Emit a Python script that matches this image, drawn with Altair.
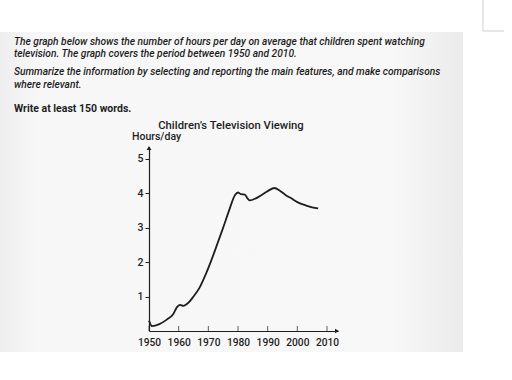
import altair as alt
import pandas as pd

# ---- data ----
years = [1950, 1951, 1953.5, 1956, 1958, 1959.5, 1960.5, 1961.5, 1963, 1965, 1967,
         1969, 1971, 1973, 1975, 1977, 1979, 1980, 1981, 1982.3, 1983.2, 1984, 1986,
         1988, 1990, 1992.3, 1994, 1996, 1998, 2000, 2003, 2005, 2007]
hours = [0.3, 0.14, 0.2, 0.33, 0.47, 0.7, 0.76, 0.73, 0.8, 1.0, 1.25,
         1.62, 2.05, 2.52, 3.0, 3.5, 3.95, 4.02, 3.97, 3.96, 3.85, 3.79, 3.85,
         3.95, 4.06, 4.15, 4.08, 3.95, 3.85, 3.74, 3.64, 3.59, 3.56]
x_ticks = [1950, 1960, 1970, 1980, 1990, 2000, 2010]
y_ticks = [1, 2, 3, 4, 5]
title_text = "Children\u2019s Television Viewing"
y_title = "Hours/day"
prompt_italic = [
    "The graph below shows the number of hours per day on average that children spent watching",
    "television. The graph covers the period between 1950 and 2010.",
    "Summarize the information by selecting and reporting the main features, and make comparisons",
    "where relevant.",
]
prompt_bold = "Write at least 150 words."

FONT = "Roboto"
INK = "#1e1e1e"

df = pd.DataFrame({"year": years, "hours": hours})
tick_df = pd.DataFrame({"year": x_ticks})

W, H = 189, 184
xscale = alt.Scale(domain=[1950, 2013.7], nice=False, zero=False)
yscale = alt.Scale(domain=[0, 5.34], nice=False)
xaxis = alt.Axis(values=x_ticks, format="d", title=None, tickSize=0,
                 labelPadding=6, labelFontSize=10.2, labelFont=FONT,
                 labelFontWeight=500, labelColor=INK, domainColor=INK,
                 domainWidth=1.2, grid=False, labelFlush=False,
                 labelOverlap=False, labelBound=False, zindex=2)

one = alt.Data(values=[{}])

# scanned page background
bg = alt.Chart(one).mark_rect(
    fill=alt.LinearGradient(
        gradient="linear", x1=0, x2=1, y1=0, y2=0,
        stops=[alt.GradientStop(color="#eeeeee", offset=0),
               alt.GradientStop(color="#f7f7f7", offset=0.08),
               alt.GradientStop(color="#f8f8f8", offset=0.85),
               alt.GradientStop(color="#ebebeb", offset=1)])
).encode(x=alt.value(-149), x2=alt.value(314), y=alt.value(-115), y2=alt.value(205))

corner_v = alt.Chart(one).mark_rule(color="#cfcfcf", strokeWidth=1).encode(
    x=alt.value(334), y=alt.value(-147), y2=alt.value(-116))
corner_h = alt.Chart(one).mark_rule(color="#cfcfcf", strokeWidth=1).encode(
    x=alt.value(334), x2=alt.value(355), y=alt.value(-116))

texts = []
for i, (line, yy) in enumerate(zip(prompt_italic, [-105, -93, -75, -62])):
    texts.append(alt.Chart(one).mark_text(
        align="left", baseline="middle", font=FONT, fontSize=10.2,
        fontStyle="italic", fontWeight=500, color=INK).encode(
        x=alt.value(-135), y=alt.value(yy), text=alt.value(line)))
texts.append(alt.Chart(one).mark_text(
    align="left", baseline="middle", font=FONT, fontSize=10.5,
    fontWeight="bold", color=INK).encode(
    x=alt.value(-135), y=alt.value(-38), text=alt.value(prompt_bold)))
texts.append(alt.Chart(one).mark_text(
    align="center", baseline="middle", font=FONT, fontSize=11.3,
    fontWeight=500, color=INK).encode(x=alt.value(82), y=alt.value(-21),
                                      text=alt.value(title_text)))
texts.append(alt.Chart(one).mark_text(
    align="left", baseline="middle", font=FONT, fontSize=10.5,
    fontWeight=500, color=INK).encode(x=alt.value(-17), y=alt.value(-10),
                                      text=alt.value(y_title)))

line = alt.Chart(df).mark_line(color=INK, strokeWidth=1.8, interpolate="monotone").encode(
    x=alt.X("year:Q", scale=xscale, axis=xaxis),
    y=alt.Y("hours:Q", scale=yscale,
            axis=alt.Axis(values=y_ticks, title=None, tickSize=4, labelPadding=2,
                          labelFontSize=10.5, labelFont=FONT, labelFontWeight=500,
                          labelColor=INK, domainColor=INK, domainWidth=1.2,
                          tickColor=INK, grid=False, labelOverlap=False, zindex=2)),
)

xticks = alt.Chart(tick_df).mark_tick(color=INK, thickness=1, size=5).encode(
    x=alt.X("year:Q", scale=xscale, axis=xaxis), y=alt.value(H - 2.5))

arrows = [
    alt.Chart(one).mark_point(shape="triangle-right", filled=True, color=INK, size=22,
                              opacity=1).encode(x=alt.value(W - 1), y=alt.value(H)),
    alt.Chart(one).mark_point(shape="triangle-up", filled=True, color=INK, size=22,
                              opacity=1).encode(x=alt.value(0), y=alt.value(1)),
]

chart = alt.layer(bg, corner_v, corner_h, *texts, line, xticks, *arrows).properties(
    width=W, height=H,
    autosize=alt.AutoSizeParams(type="none"),
    padding={"left": 149, "top": 147, "right": 174, "bottom": 49},
    background="white",
).configure_view(stroke=None).configure_axisX(labelOverlap=False)

chart.save("out.html", embed_options={"renderer": "svg", "actions": False})
